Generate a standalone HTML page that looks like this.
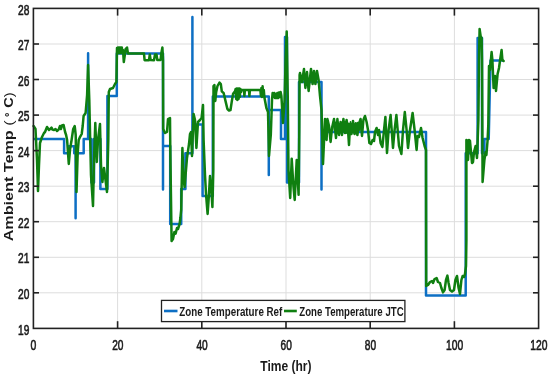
<!DOCTYPE html>
<html><head><meta charset="utf-8"><title>Zone Temperature</title>
<style>
html,body{margin:0;padding:0;background:#fff;}
body{width:550px;height:377px;overflow:hidden;}
svg{display:block;}
text{font-family:"Liberation Sans",sans-serif;fill:#1a1a1a;}
</style></head><body>
<svg width="550" height="377" viewBox="0 0 550 377">
<rect width="550" height="377" fill="#fff"/>
<g stroke="#dddddd" stroke-width="1" fill="none">
<line x1="117.6" y1="8.4" x2="117.6" y2="328.4"/>
<line x1="201.8" y1="8.4" x2="201.8" y2="328.4"/>
<line x1="286.0" y1="8.4" x2="286.0" y2="328.4"/>
<line x1="370.2" y1="8.4" x2="370.2" y2="328.4"/>
<line x1="454.4" y1="8.4" x2="454.4" y2="328.4"/>
<line x1="33.4" y1="292.8" x2="538.6" y2="292.8"/>
<line x1="33.4" y1="257.3" x2="538.6" y2="257.3"/>
<line x1="33.4" y1="221.7" x2="538.6" y2="221.7"/>
<line x1="33.4" y1="186.2" x2="538.6" y2="186.2"/>
<line x1="33.4" y1="150.6" x2="538.6" y2="150.6"/>
<line x1="33.4" y1="115.1" x2="538.6" y2="115.1"/>
<line x1="33.4" y1="79.5" x2="538.6" y2="79.5"/>
<line x1="33.4" y1="44.0" x2="538.6" y2="44.0"/>
</g>
<path d="M33.4,139 H64.1 V153.2 H68.6 V146.2 H74.2 V153.2 H75.6 V218.2 V153.2 H83.7 V139 H88.1 V53.2 V139 H91.4 V182.5 H94 V139 H100.4 V189 H107.4 V96 H116.8 V53.6 H163 V189.6 V146 H170.2 V224 H181.2 V189 H185.4 V153.2 H192.4 V17 V124.4 H202.6 V196 H212.8 V96.4 H268.8 V175 V110 H281 V139 H285 V37 H287 V182.6 H299 V82 H321.5 V189.6 V132 H426 V295.6 H465.7 V153.2 H477.6 V38 H482 V153.2 H484.4 V139 H488.7 L490.5,60.6 H503.6" fill="none" stroke="#0d6fc4" stroke-width="2.5" stroke-linejoin="round"/>
<path d="M33.6,126.0 L35.5,129.0 L37.0,160.0 L38.0,191.0 L39.0,165.0 L40.0,143.0 L42.0,137.0 L44.0,133.0 L45.0,132.0 L47.0,127.0 L49.0,130.0 L50.0,129.1 L51.5,127.6 L52.5,129.6 L54.0,130.0 L55.5,129.0 L57.0,131.0 L58.6,129.6 L60.0,126.0 L61.0,129.0 L62.0,125.5 L63.6,125.0 L65.1,132.0 L66.1,135.0 L67.1,140.0 L68.8,164.0 L70.1,149.0 L71.6,140.0 L73.2,129.0 L74.7,126.0 L75.7,135.0 L76.5,192.0 L77.7,153.0 L78.7,140.0 L80.2,136.6 L81.7,134.0 L82.7,126.0 L83.6,116.0 L85.6,113.0 L87.1,95.0 L88.1,65.0 L89.3,100.0 L90.2,140.0 L91.0,175.0 L93.0,206.0 L94.0,160.0 L95.3,123.0 L96.8,162.0 L98.0,140.0 L100.0,124.0 L101.0,165.0 L102.4,182.0 L104.0,168.0 L107.0,192.0 L108.3,140.0 L108.8,92.0 L110.0,89.0 L113.0,88.0 L115.0,84.0 L116.4,82.0 L117.0,48.0 L117.6,53.0 L118.2,47.5 L118.8,53.0 L119.4,47.5 L120.0,53.0 L120.6,47.5 L121.2,53.0 L121.8,47.5 L122.4,53.0 L123.0,50.0 L123.8,62.0 L124.8,55.0 L125.6,49.0 L127.0,47.5 L128.0,53.6 L144.0,53.6 L144.6,60.2 L149.0,60.2 L149.8,54.5 L150.6,60.0 L154.0,60.2 L155.0,54.5 L156.5,54.5 L157.3,60.0 L160.6,60.0 L161.2,54.0 L162.4,47.5 L163.0,60.0 L163.2,129.0 L165.0,133.0 L167.0,132.0 L168.0,119.0 L170.0,118.0 L170.3,150.0 L171.6,241.0 L173.0,239.0 L174.4,232.0 L175.6,233.6 L177.0,228.0 L178.0,229.0 L179.6,224.0 L180.4,218.0 L181.2,210.0 L182.4,148.0 L183.5,178.0 L184.6,187.0 L186.0,170.0 L187.0,158.0 L189.0,144.0 L190.0,134.0 L191.0,132.0 L192.0,156.0 L193.6,114.0 L195.0,120.0 L196.4,148.0 L198.0,122.0 L200.0,120.0 L201.6,118.0 L203.0,105.0 L203.6,140.0 L205.0,175.0 L206.0,194.0 L207.6,214.0 L208.6,200.0 L210.0,176.0 L211.0,184.0 L212.4,207.0 L213.3,170.0 L213.5,86.0 L214.4,85.0 L215.3,101.0 L216.2,92.0 L217.5,86.0 L219.5,82.5 L220.8,84.0 L221.8,91.3 L223.7,93.2 L225.6,101.4 L227.4,109.0 L229.0,110.5 L230.5,110.0 L231.8,101.4 L233.1,93.8 L235.0,91.3 L235.6,89.0 L236.2,99.0 L236.8,88.5 L237.4,100.0 L238.0,88.5 L238.6,99.0 L239.2,88.5 L239.8,97.0 L240.4,89.0 L241.0,92.0 L241.6,90.1 L244.0,90.1 L244.4,96.0 L244.9,90.1 L249.0,90.1 L249.4,96.0 L249.9,90.1 L260.4,90.1 L260.9,96.0 L261.4,88.0 L262.0,97.0 L262.6,86.3 L263.2,96.0 L263.8,90.0 L264.5,98.0 L266.4,108.0 L268.0,112.0 L269.0,156.0 L270.8,135.0 L272.0,100.0 L272.6,93.0 L273.4,97.0 L274.2,93.0 L275.0,98.0 L275.8,94.0 L276.6,98.0 L277.4,93.0 L278.2,98.0 L279.0,92.5 L279.8,97.0 L280.6,92.0 L281.4,96.0 L283.0,123.0 L284.6,100.0 L285.6,60.0 L286.7,31.6 L287.8,100.0 L288.5,170.0 L290.2,198.0 L291.7,158.7 L293.4,186.0 L294.7,200.0 L296.7,160.0 L298.6,194.7 L299.3,130.0 L299.6,75.0 L300.0,73.0 L302.0,82.0 L304.0,69.0 L305.4,88.0 L307.0,72.0 L308.6,91.0 L311.0,69.0 L312.6,84.0 L314.0,71.0 L315.4,84.0 L317.0,71.0 L318.6,80.0 L320.0,96.0 L321.5,110.0 L323.0,164.0 L325.0,119.0 L326.6,140.0 L327.4,119.0 L329.0,126.0 L330.6,142.0 L332.0,128.0 L334.0,119.0 L336.0,138.0 L337.4,119.0 L339.0,135.0 L340.6,122.0 L342.0,135.0 L343.4,119.0 L345.0,133.0 L346.6,120.0 L348.0,130.0 L349.0,145.0 L350.0,126.0 L351.4,134.0 L353.0,121.0 L354.6,134.0 L356.0,125.0 L357.4,135.0 L359.0,124.0 L360.6,119.0 L362.0,136.0 L363.4,120.0 L365.0,116.0 L366.6,122.0 L368.0,130.0 L369.4,143.0 L371.0,144.0 L372.6,140.0 L374.0,141.0 L375.0,132.0 L376.6,128.0 L378.0,135.0 L379.0,130.0 L380.6,143.0 L382.4,147.0 L384.0,130.0 L385.4,117.0 L387.0,153.0 L388.6,130.0 L390.6,115.0 L393.0,148.0 L394.6,130.0 L396.4,115.0 L399.0,146.0 L401.4,154.0 L403.0,130.0 L404.8,112.0 L406.6,130.0 L408.0,148.0 L410.0,130.0 L412.6,113.0 L414.6,130.0 L416.6,150.0 L417.6,136.0 L419.0,137.0 L421.0,128.0 L422.6,138.0 L424.6,146.0 L426.0,150.0 L426.2,286.0 L428.0,285.0 L430.0,282.0 L432.0,281.0 L433.0,283.0 L434.6,279.0 L436.6,278.0 L438.0,282.0 L440.0,283.0 L441.4,288.0 L443.0,292.4 L444.6,290.0 L446.0,280.0 L447.4,275.6 L448.6,283.0 L450.0,290.0 L452.0,291.6 L454.0,290.0 L455.4,280.0 L457.0,276.0 L458.6,288.0 L460.0,294.0 L461.4,280.0 L462.6,276.0 L464.0,277.0 L465.0,274.0 L466.0,266.0 L466.4,240.0 L466.4,140.0 L467.4,141.0 L468.0,160.0 L469.0,140.0 L470.0,141.0 L472.0,163.0 L473.0,162.0 L474.0,152.0 L475.6,146.0 L477.0,158.0 L478.4,120.0 L479.0,60.0 L479.6,29.0 L480.6,36.0 L481.6,38.0 L482.0,60.0 L482.6,182.0 L484.4,160.0 L485.6,152.0 L486.4,155.0 L487.6,140.0 L488.3,125.0 L489.0,66.0 L490.0,70.0 L491.6,52.0 L492.4,60.0 L493.6,88.0 L495.0,76.0 L496.0,91.0 L497.6,74.0 L499.0,68.0 L500.4,58.0 L501.6,50.0 L502.4,60.0 L503.6,61.0" fill="none" stroke="#0f7f10" stroke-width="2.5" stroke-linejoin="round" stroke-linecap="round"/>
<path d="M333.5,121.7 L334.4,130.4 L335.2,122.2 L336.1,130.5 L336.9,121.2 L337.8,131.4 L338.6,123.8 L339.5,132.8 L340.3,123.3 L341.2,130.8 L342.0,122.6 L342.9,131.0 L343.7,121.5 L344.6,130.4 L345.4,121.6 L346.3,133.2 L347.1,123.5 L348.0,132.8 L348.8,123.4 L349.7,130.7 L350.5,121.9 L351.4,132.2 L352.2,123.2 L353.1,133.0 L353.9,123.6 L354.8,130.3 L355.6,122.8 L356.5,132.4 L357.3,122.5 L358.2,130.6 L359.0,122.4 L359.9,130.3 L360.7,123.8" fill="none" stroke="#0f7f10" stroke-width="1.6" stroke-linejoin="round"/>
<g stroke="#222" stroke-width="1.6" fill="none">
<rect x="33.4" y="8.4" width="505.2" height="320.0"/>
<line x1="117.6" y1="328.4" x2="117.6" y2="321.2"/><line x1="117.6" y1="8.4" x2="117.6" y2="15.600000000000001"/>
<line x1="201.8" y1="328.4" x2="201.8" y2="321.2"/><line x1="201.8" y1="8.4" x2="201.8" y2="15.600000000000001"/>
<line x1="286.0" y1="328.4" x2="286.0" y2="321.2"/><line x1="286.0" y1="8.4" x2="286.0" y2="15.600000000000001"/>
<line x1="370.2" y1="328.4" x2="370.2" y2="321.2"/><line x1="370.2" y1="8.4" x2="370.2" y2="15.600000000000001"/>
<line x1="454.4" y1="328.4" x2="454.4" y2="321.2"/><line x1="454.4" y1="8.4" x2="454.4" y2="15.600000000000001"/>
<line x1="33.4" y1="292.8" x2="39.0" y2="292.8"/><line x1="538.6" y1="292.8" x2="533.0" y2="292.8"/>
<line x1="33.4" y1="257.3" x2="39.0" y2="257.3"/><line x1="538.6" y1="257.3" x2="533.0" y2="257.3"/>
<line x1="33.4" y1="221.7" x2="39.0" y2="221.7"/><line x1="538.6" y1="221.7" x2="533.0" y2="221.7"/>
<line x1="33.4" y1="186.2" x2="39.0" y2="186.2"/><line x1="538.6" y1="186.2" x2="533.0" y2="186.2"/>
<line x1="33.4" y1="150.6" x2="39.0" y2="150.6"/><line x1="538.6" y1="150.6" x2="533.0" y2="150.6"/>
<line x1="33.4" y1="115.1" x2="39.0" y2="115.1"/><line x1="538.6" y1="115.1" x2="533.0" y2="115.1"/>
<line x1="33.4" y1="79.5" x2="39.0" y2="79.5"/><line x1="538.6" y1="79.5" x2="533.0" y2="79.5"/>
<line x1="33.4" y1="44.0" x2="39.0" y2="44.0"/><line x1="538.6" y1="44.0" x2="533.0" y2="44.0"/>
</g>
<rect x="161.5" y="300.4" width="243.4" height="21.2" fill="#fff" stroke="#222" stroke-width="1.3"/>
<line x1="164" y1="311" x2="177.5" y2="311" stroke="#0d6fc4" stroke-width="2.6"/>
<line x1="284" y1="311" x2="296.8" y2="311" stroke="#0f7f10" stroke-width="2.6"/>
<text x="179.3" y="315.8" font-size="13" font-weight="bold" textLength="103" lengthAdjust="spacingAndGlyphs">Zone Temperature Ref</text>
<text x="299.3" y="315.8" font-size="13" font-weight="bold" textLength="104.3" lengthAdjust="spacingAndGlyphs">Zone Temperature JTC</text>
<text x="18.0" y="334.5" font-size="14" textLength="11.3" lengthAdjust="spacingAndGlyphs" stroke="#1a1a1a" stroke-width="0.6">19</text>
<text x="18.0" y="298.9" font-size="14" textLength="11.3" lengthAdjust="spacingAndGlyphs" stroke="#1a1a1a" stroke-width="0.6">20</text>
<text x="18.0" y="263.4" font-size="14" textLength="11.3" lengthAdjust="spacingAndGlyphs" stroke="#1a1a1a" stroke-width="0.6">21</text>
<text x="18.0" y="227.8" font-size="14" textLength="11.3" lengthAdjust="spacingAndGlyphs" stroke="#1a1a1a" stroke-width="0.6">22</text>
<text x="18.0" y="192.3" font-size="14" textLength="11.3" lengthAdjust="spacingAndGlyphs" stroke="#1a1a1a" stroke-width="0.6">23</text>
<text x="18.0" y="156.7" font-size="14" textLength="11.3" lengthAdjust="spacingAndGlyphs" stroke="#1a1a1a" stroke-width="0.6">24</text>
<text x="18.0" y="121.2" font-size="14" textLength="11.3" lengthAdjust="spacingAndGlyphs" stroke="#1a1a1a" stroke-width="0.6">25</text>
<text x="18.0" y="85.6" font-size="14" textLength="11.3" lengthAdjust="spacingAndGlyphs" stroke="#1a1a1a" stroke-width="0.6">26</text>
<text x="18.0" y="50.1" font-size="14" textLength="11.3" lengthAdjust="spacingAndGlyphs" stroke="#1a1a1a" stroke-width="0.6">27</text>
<text x="18.0" y="14.5" font-size="14" textLength="11.3" lengthAdjust="spacingAndGlyphs" stroke="#1a1a1a" stroke-width="0.6">28</text>
<text x="30.5" y="349.9" font-size="14" textLength="5.8" lengthAdjust="spacingAndGlyphs" stroke="#1a1a1a" stroke-width="0.6">0</text>
<text x="112.2" y="349.9" font-size="14" textLength="11.3" lengthAdjust="spacingAndGlyphs" stroke="#1a1a1a" stroke-width="0.6">20</text>
<text x="196.4" y="349.9" font-size="14" textLength="11.3" lengthAdjust="spacingAndGlyphs" stroke="#1a1a1a" stroke-width="0.6">40</text>
<text x="280.6" y="349.9" font-size="14" textLength="11.3" lengthAdjust="spacingAndGlyphs" stroke="#1a1a1a" stroke-width="0.6">60</text>
<text x="364.8" y="349.9" font-size="14" textLength="11.3" lengthAdjust="spacingAndGlyphs" stroke="#1a1a1a" stroke-width="0.6">80</text>
<text x="446.0" y="349.9" font-size="14" textLength="17.2" lengthAdjust="spacingAndGlyphs" stroke="#1a1a1a" stroke-width="0.6">100</text>
<text x="530.2" y="349.9" font-size="14" textLength="17.2" lengthAdjust="spacingAndGlyphs" stroke="#1a1a1a" stroke-width="0.6">120</text>
<text x="260.3" y="370.8" font-size="14.3" font-weight="bold" textLength="51.2" lengthAdjust="spacingAndGlyphs">Time (hr)</text>
<text transform="translate(13.1,241.3) rotate(-90)" font-size="13" font-weight="bold" textLength="120.9" lengthAdjust="spacingAndGlyphs">Ambient Temp <tspan font-weight="normal">(</tspan></text>
<text transform="translate(12.8,117.0) rotate(-90)" font-size="11" stroke="#1a1a1a" stroke-width="0.3">°</text>
<text transform="translate(13.1,107.8) rotate(-90)" font-size="13" font-weight="bold" textLength="15.4" lengthAdjust="spacingAndGlyphs">C<tspan font-weight="normal">)</tspan></text>
</svg>
</body></html>
